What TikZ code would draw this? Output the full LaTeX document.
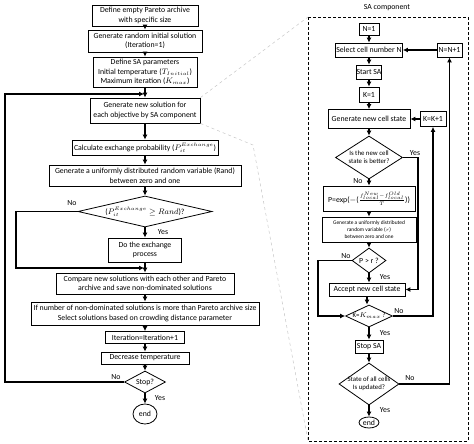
\documentclass[tikz,border=0pt]{standalone}
\usepackage{amsmath}
\usepackage{amssymb}
\usepackage{fontspec}
\setmainfont{Carlito}
\usepackage{tikz}
\usetikzlibrary{arrows.meta,shapes.geometric}

\tikzset{
  blk/.style={draw, line width=0.8pt, fill=white, align=center, inner sep=0pt},
  dia/.style={draw, diamond, line width=0.8pt, fill=white, inner sep=0pt},
  term/.style={draw, ellipse, line width=0.8pt, inner sep=0pt},
  flow/.style={-{Latex[length=5pt,width=5pt]}, line width=1.3pt},
  small/.style={font=\fontsize{6.8}{8}\selectfont},
  zoomline/.style={draw=gray!45, dashed, line width=0.5pt}
}

\begin{document}
\begin{tikzpicture}[x=1pt, y=-1pt, font=\fontsize{7.8}{9.4}\selectfont]
\useasboundingbox (0,0) rectangle (474,444);

% main loop
\node[blk, minimum width=106pt, minimum height=21pt] (def) at (145,15.5) {Define empty Pareto archive\\with specific size};
\node[blk, minimum width=114pt, minimum height=22pt] (init) at (145,41) {Generate random initial solution\\(Iteration=1)};
\node[blk, minimum width=104pt, minimum height=30pt] (param) at (145,72) {Define SA parameters\\Initial temperature ($T_{Initial}$)\\Maximum iteration ($K_{max}$)};
\node[blk, minimum width=110pt, minimum height=25pt] (newsol) at (145,110.5) {Generate new solution for\\each objective by SA component};
\node[blk, minimum width=146pt, minimum height=15pt] (prob) at (145,147.5) {Calculate exchange probability ($P_{it}^{Exchange}$)};
\node[blk, minimum width=192pt, minimum height=21pt] (rand) at (145,175.5) {Generate a uniformly distributed random variable (Rand)\\between zero and one};
\node[dia, minimum width=134pt, minimum height=31pt, label=center:{($P_{it}^{Exchange}\geq Rand$)?}] (exch) at (145,211.5) {};
\node[blk, minimum width=73pt, minimum height=24pt] (doex) at (145,250) {Do the exchange\\process};
\node[blk, minimum width=178pt, minimum height=21pt] (comp) at (145,283.5) {Compare new solutions with each other and Pareto\\archive and save non-dominated solutions};
\node[blk, minimum width=228pt, minimum height=23pt] (crowd) at (145,313.5) {If number of non-dominated solutions is more than Pareto archive size\\Select solutions based on crowding distance parameter};
\node[blk, minimum width=79pt, minimum height=12pt] (iter) at (145,337.5) {Iteration=Iteration+1};
\node[blk, minimum width=88pt, minimum height=12pt] (temp) at (145,358) {Decrease temperature};
\node[dia, minimum width=41pt, minimum height=22pt, label=center:{Stop?}] (stop) at (145,382) {};
\node[term, minimum width=24pt, minimum height=20pt] (fin) at (145,414) {end};

\foreach \a/\b in {def/init, init/param, param/newsol, newsol/prob, prob/rand, rand/exch, exch/doex, doex/comp, comp/crowd, crowd/iter, iter/temp, temp/stop, stop/fin}
    \draw[flow] (\a) -- (\a |- \b.north);

\coordinate (join1) at (144,94);
\coordinate (join2) at (144,268);
\draw[flow] (stop.west) -| (5,94) -- (join1);
\draw[flow] (exch.west) -| (16,268) -- (join2);

\node (no1) at (72,203) {No};
\node (yes1) at (163,232) {Yes};
\node (no2) at (116,377) {No};
\node (yes2) at (160,398) {Yes};

% SA component
\draw[densely dashed, line width=0.6pt] (308,17) rectangle (468,441);
\node (sacomp) at (387,8) {SA component};

\node[blk, minimum width=20pt, minimum height=12pt] (n1) at (369,29) {N=1};
\node[blk, minimum width=67pt, minimum height=14pt] (sel) at (369,50) {Select cell number N};
\node[blk, minimum width=25pt, minimum height=14pt] (nn) at (449.5,50) {N=N+1};
\node[blk, minimum width=24pt, minimum height=14pt] (start) at (369,72) {Start SA};
\node[blk, minimum width=20pt, minimum height=15pt] (k1) at (369,94.5) {K=1};
\node[blk, minimum width=82pt, minimum height=19pt] (gen) at (369,119) {Generate new cell state};
\node[blk, minimum width=26pt, minimum height=15pt] (kk) at (433,119) {K=K+1};
\node[dia, minimum width=67pt, minimum height=43pt, label={[align=center, small]center:Is the new cell\\state is better?}] (better) at (369,157.5) {};
\node[blk, minimum width=92pt, minimum height=25pt] (pexp) at (369,198.5) {P=exp($-$($\frac{f_{local}^{New}-f_{local}^{Old}}{T}$))};
\node[blk, minimum width=94pt, minimum height=25pt, font=\fontsize{5.4}{7}\selectfont] (rnd) at (369,229.5) {Generate a uniformly distributed\\random variable ($r$)\\between zero and one};
\node[dia, minimum width=34pt, minimum height=25pt, label={center:P > r ?}] (pr) at (369,260.5) {};
\node[blk, minimum width=76pt, minimum height=13pt] (acc) at (367,289.5) {Accept new cell state};
\node[dia, minimum width=47pt, minimum height=22pt, label={[small]center:K=$K_{max}$ ?}] (kmax) at (369,316) {};
\node[blk, minimum width=28pt, minimum height=13pt] (stopsa) at (369,346.5) {Stop SA};
\node[dia, minimum width=60pt, minimum height=42pt, label={[align=center, small]center:State of all cells\\Is updated?}] (all) at (369,384) {};
\node[term, minimum width=20pt, minimum height=11pt] (fin2) at (369,422.5) {end};

\foreach \a/\b in {n1/sel, sel/start, start/k1, k1/gen, gen/better, better/pexp, pexp/rnd, rnd/pr, pr/acc, acc/kmax, kmax/stopsa, stopsa/all, all/fin2}
    \draw[flow] (\a) -- (\a |- \b.north);

\draw[flow] (nn) -- (sel);
\draw[flow] (kk) -- (gen);
\draw[flow] (better.east) -| (418,289.5) -- (acc.east);
\draw[flow] (pr.west) -| (318,316) -- (kmax.west);
\draw[flow] (kmax.east) -| (kk.south);
\draw[flow] (all.east) -| (nn.south);

\node (yes3) at (415,153) {Yes};
\node (no3) at (358,181) {No};
\node (no4) at (346,256) {No};
\node (yes4) at (385,277) {Yes};
\node (no5) at (399,311) {No};
\node (yes5) at (385,333) {Yes};
\node (no6) at (410,378) {No};
\node (yes6) at (385,410) {Yes};

% zoom lines
\draw[zoomline] (newsol.north east) -- (308,17);
\draw[zoomline] (newsol.south east) -- (253,145) -- (308,441);

\end{tikzpicture}
\end{document}
